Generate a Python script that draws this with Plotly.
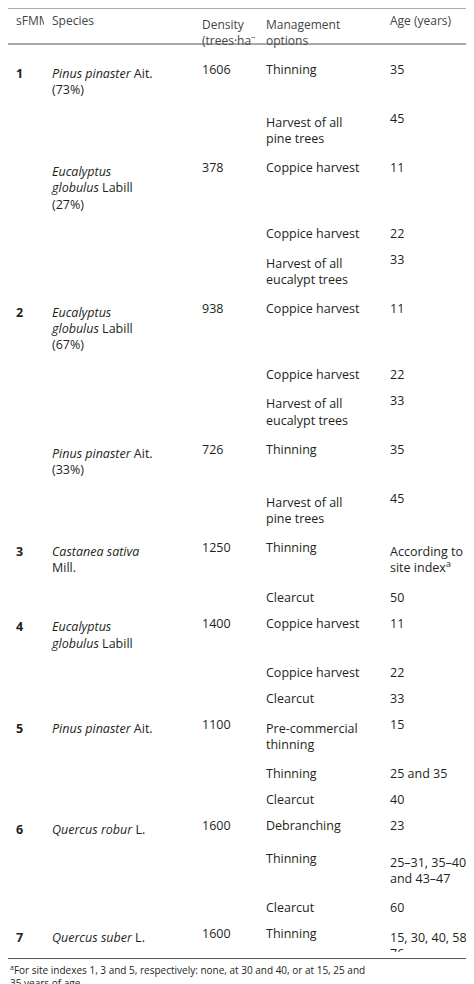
import plotly.graph_objects as go

header = ["sFMM", "Species", "Density<br>(trees·ha<sup>− 1</sup>)", "Management<br>options", "Age (years)"]

sfmm = ["<b>1</b>", "", "", "", "", "<b>2</b>", "", "", "", "", "<b>3</b>", "", "<b>4</b>", "", "",
        "<b>5</b>", "", "", "<b>6</b>", "", "", "<b>7</b>"]
species = ["<i>Pinus pinaster</i> Ait.<br>(73%)", "", "<i>Eucalyptus<br>globulus</i> Labill<br>(27%)", "", "",
           "<i>Eucalyptus<br>globulus</i> Labill<br>(67%)", "", "", "<i>Pinus pinaster</i> Ait.<br>(33%)", "",
           "<i>Castanea sativa</i><br>Mill.", "", "<i>Eucalyptus<br>globulus</i> Labill", "", "",
           "<i>Pinus pinaster</i> Ait.", "", "", "<i>Quercus robur</i> L.", "", "", "<i>Quercus suber</i> L."]
density = ["1606", "", "378", "", "", "938", "", "", "726", "", "1250", "", "1400", "", "",
           "1100", "", "", "1600", "", "", "1600"]
management = ["Thinning", "Harvest of all<br>pine trees", "Coppice harvest", "Coppice harvest",
              "Harvest of all<br>eucalypt trees", "Coppice harvest", "Coppice harvest",
              "Harvest of all<br>eucalypt trees", "Thinning", "Harvest of all<br>pine trees",
              "Thinning", "Clearcut", "Coppice harvest", "Coppice harvest", "Clearcut",
              "Pre-commercial<br>thinning", "Thinning", "Clearcut", "Debranching", "Thinning",
              "Clearcut", "Thinning"]
age = ["35", "45", "11", "22", "33", "11", "22", "33", "35", "45",
       "According to<br>site index<sup>a</sup>", "50", "11", "22", "33", "15", "25 and 35", "40",
       "23", "25–31, 35–40<br>and 43–47", "60", "15, 30, 40, 58,<br>76"]
footnote = ("<sup>a</sup>For site indexes 1, 3 and 5, respectively: none, at 30 and 40, or at 15, 25 and<br>"
            "35 years of age")

txt = "#231f20"
fig = go.Figure(go.Table(
    columnwidth=[36, 150, 64, 124, 100],
    header=dict(values=header, align="left", height=34,
                font=dict(family="Open Sans", size=12, color="#444"),
                fill_color="white", line=dict(width=0)),
    cells=dict(values=[sfmm, species, density, management, age], align="left", height=26,
               font=dict(family="Open Sans", size=12.5, color=txt),
               fill_color="white", line=dict(width=0)),
    domain=dict(x=[0, 1], y=[0.04, 1]),
))
fig.add_shape(type="line", xref="paper", yref="paper", x0=0, x1=1, y0=1, y1=1,
              line=dict(color="#555", width=1))
fig.add_shape(type="line", xref="paper", yref="paper", x0=0, x1=1, y0=1 - 36 / 984, y1=1 - 36 / 984,
              line=dict(color="#555", width=1))
fig.add_shape(type="line", xref="paper", yref="paper", x0=0, x1=1, y0=0.034, y1=0.034,
              line=dict(color="#555", width=1))
fig.add_annotation(text=footnote, xref="paper", yref="paper", x=0, y=0.031, xanchor="left", yanchor="top",
                   showarrow=False, align="left", font=dict(family="Open Sans", size=10, color=txt))
fig.update_layout(width=474, height=984, margin=dict(l=0, r=0, t=0, b=0),
                  paper_bgcolor="white", plot_bgcolor="white")
fig.write_html("out.html")
